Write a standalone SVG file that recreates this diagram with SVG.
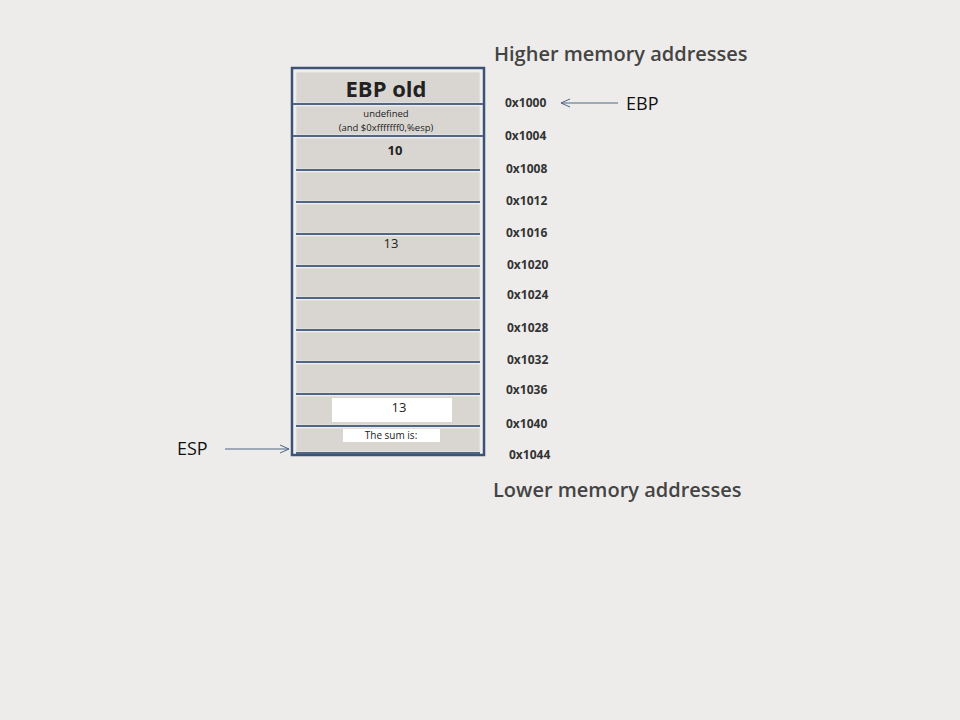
<svg xmlns="http://www.w3.org/2000/svg" width="960" height="720" viewBox="0 0 960 720">
<defs>
<style>
.row{fill:#d9d6d1;stroke:#e8e8ea;stroke-width:1}
.sep{stroke:#4f6687;stroke-width:2}
.addr{font-family:"Open Sans","Liberation Sans",sans-serif;font-size:12px;font-weight:bold;fill:#333}
.t{font-family:"Open Sans","Liberation Sans",sans-serif;fill:#222}
.h{font-family:"Open Sans","Liberation Sans",sans-serif;font-size:20px;font-weight:600;fill:#444}
.ptr{font-family:"Open Sans","Liberation Sans",sans-serif;font-size:18px;fill:#111}
</style>
<marker id="ar" markerWidth="10" markerHeight="10" refX="9" refY="5" orient="auto" markerUnits="userSpaceOnUse"><path d="M0,1 L9,5 L0,9" fill="none" stroke="#4f6687" stroke-width="1"/></marker>
</defs>
<rect width="960" height="720" fill="#edecea"/>
<g id="stack">
<rect x="292" y="68" width="192" height="387" fill="#f0f0f0" stroke="#3e5275" stroke-width="2.5"/>
<rect class="row" x="296" y="72" width="184" height="31"/>
<rect class="row" x="296" y="106" width="184" height="29"/>
<rect class="row" x="296" y="138" width="184" height="31"/>
<rect class="row" x="296" y="172" width="184" height="29"/>
<rect class="row" x="296" y="204" width="184" height="29"/>
<rect class="row" x="296" y="236" width="184" height="29"/>
<rect class="row" x="296" y="268" width="184" height="29"/>
<rect class="row" x="296" y="300" width="184" height="29"/>
<rect class="row" x="296" y="332" width="184" height="29"/>
<rect class="row" x="296" y="364" width="184" height="29"/>
<rect class="row" x="296" y="396" width="184" height="29"/>
<rect class="row" x="296" y="428" width="184" height="24"/>
<g class="sep">
<line x1="293" y1="104" x2="483" y2="104"/><line x1="293" y1="136" x2="483" y2="136"/>
<line x1="296" y1="170" x2="480" y2="170"/><line x1="296" y1="202" x2="480" y2="202"/>
<line x1="296" y1="234" x2="480" y2="234"/><line x1="296" y1="266" x2="480" y2="266"/>
<line x1="296" y1="298" x2="480" y2="298"/><line x1="296" y1="330" x2="480" y2="330"/>
<line x1="296" y1="362" x2="480" y2="362"/><line x1="296" y1="394" x2="480" y2="394"/>
<line x1="296" y1="426" x2="480" y2="426"/><line x1="296" y1="453" x2="480" y2="453"/>
</g>
<text class="t" x="386" y="97" text-anchor="middle" font-size="22" font-weight="bold">EBP old</text>
<text class="t" x="386" y="117" text-anchor="middle" font-size="9.5">undefined</text>
<text class="t" x="386" y="131" text-anchor="middle" font-size="9.5">(and    $0xfffffff0,%esp)</text>
<text class="t" x="395" y="155" text-anchor="middle" font-size="13" font-weight="bold">10</text>
<text class="t" x="391" y="248" text-anchor="middle" font-size="13">13</text>
<rect x="332" y="398" width="120" height="24" fill="#ffffff"/>
<text class="t" x="399" y="412" text-anchor="middle" font-size="13">13</text>
<rect x="343" y="429" width="97" height="13" fill="#ffffff"/>
<text class="t" x="391" y="439" text-anchor="middle" font-size="10">The sum is:</text>
</g>
<g id="addresses">
<text class="addr" x="505" y="107">0x1000</text>
<text class="addr" x="505" y="140">0x1004</text>
<text class="addr" x="506" y="173">0x1008</text>
<text class="addr" x="506" y="205">0x1012</text>
<text class="addr" x="506" y="237">0x1016</text>
<text class="addr" x="507" y="269">0x1020</text>
<text class="addr" x="507" y="299">0x1024</text>
<text class="addr" x="507" y="332">0x1028</text>
<text class="addr" x="507" y="364">0x1032</text>
<text class="addr" x="506" y="394">0x1036</text>
<text class="addr" x="506" y="428">0x1040</text>
<text class="addr" x="509" y="459">0x1044</text>
</g>
<g id="labels">
<text class="h" x="494" y="61">Higher memory addresses</text>
<text class="h" x="493" y="497">Lower memory addresses</text>
</g>
<g id="ebp"><text class="ptr" x="626" y="110">EBP</text></g>
<g id="esp"><text class="ptr" x="177" y="455">ESP</text></g>
<g id="connectors" fill="none" stroke="#4f6687" stroke-width="1">
<line x1="618" y1="103" x2="561" y2="103" marker-end="url(#ar)"/>
<line x1="225" y1="449" x2="289" y2="449" marker-end="url(#ar)"/>
</g>
</svg>
